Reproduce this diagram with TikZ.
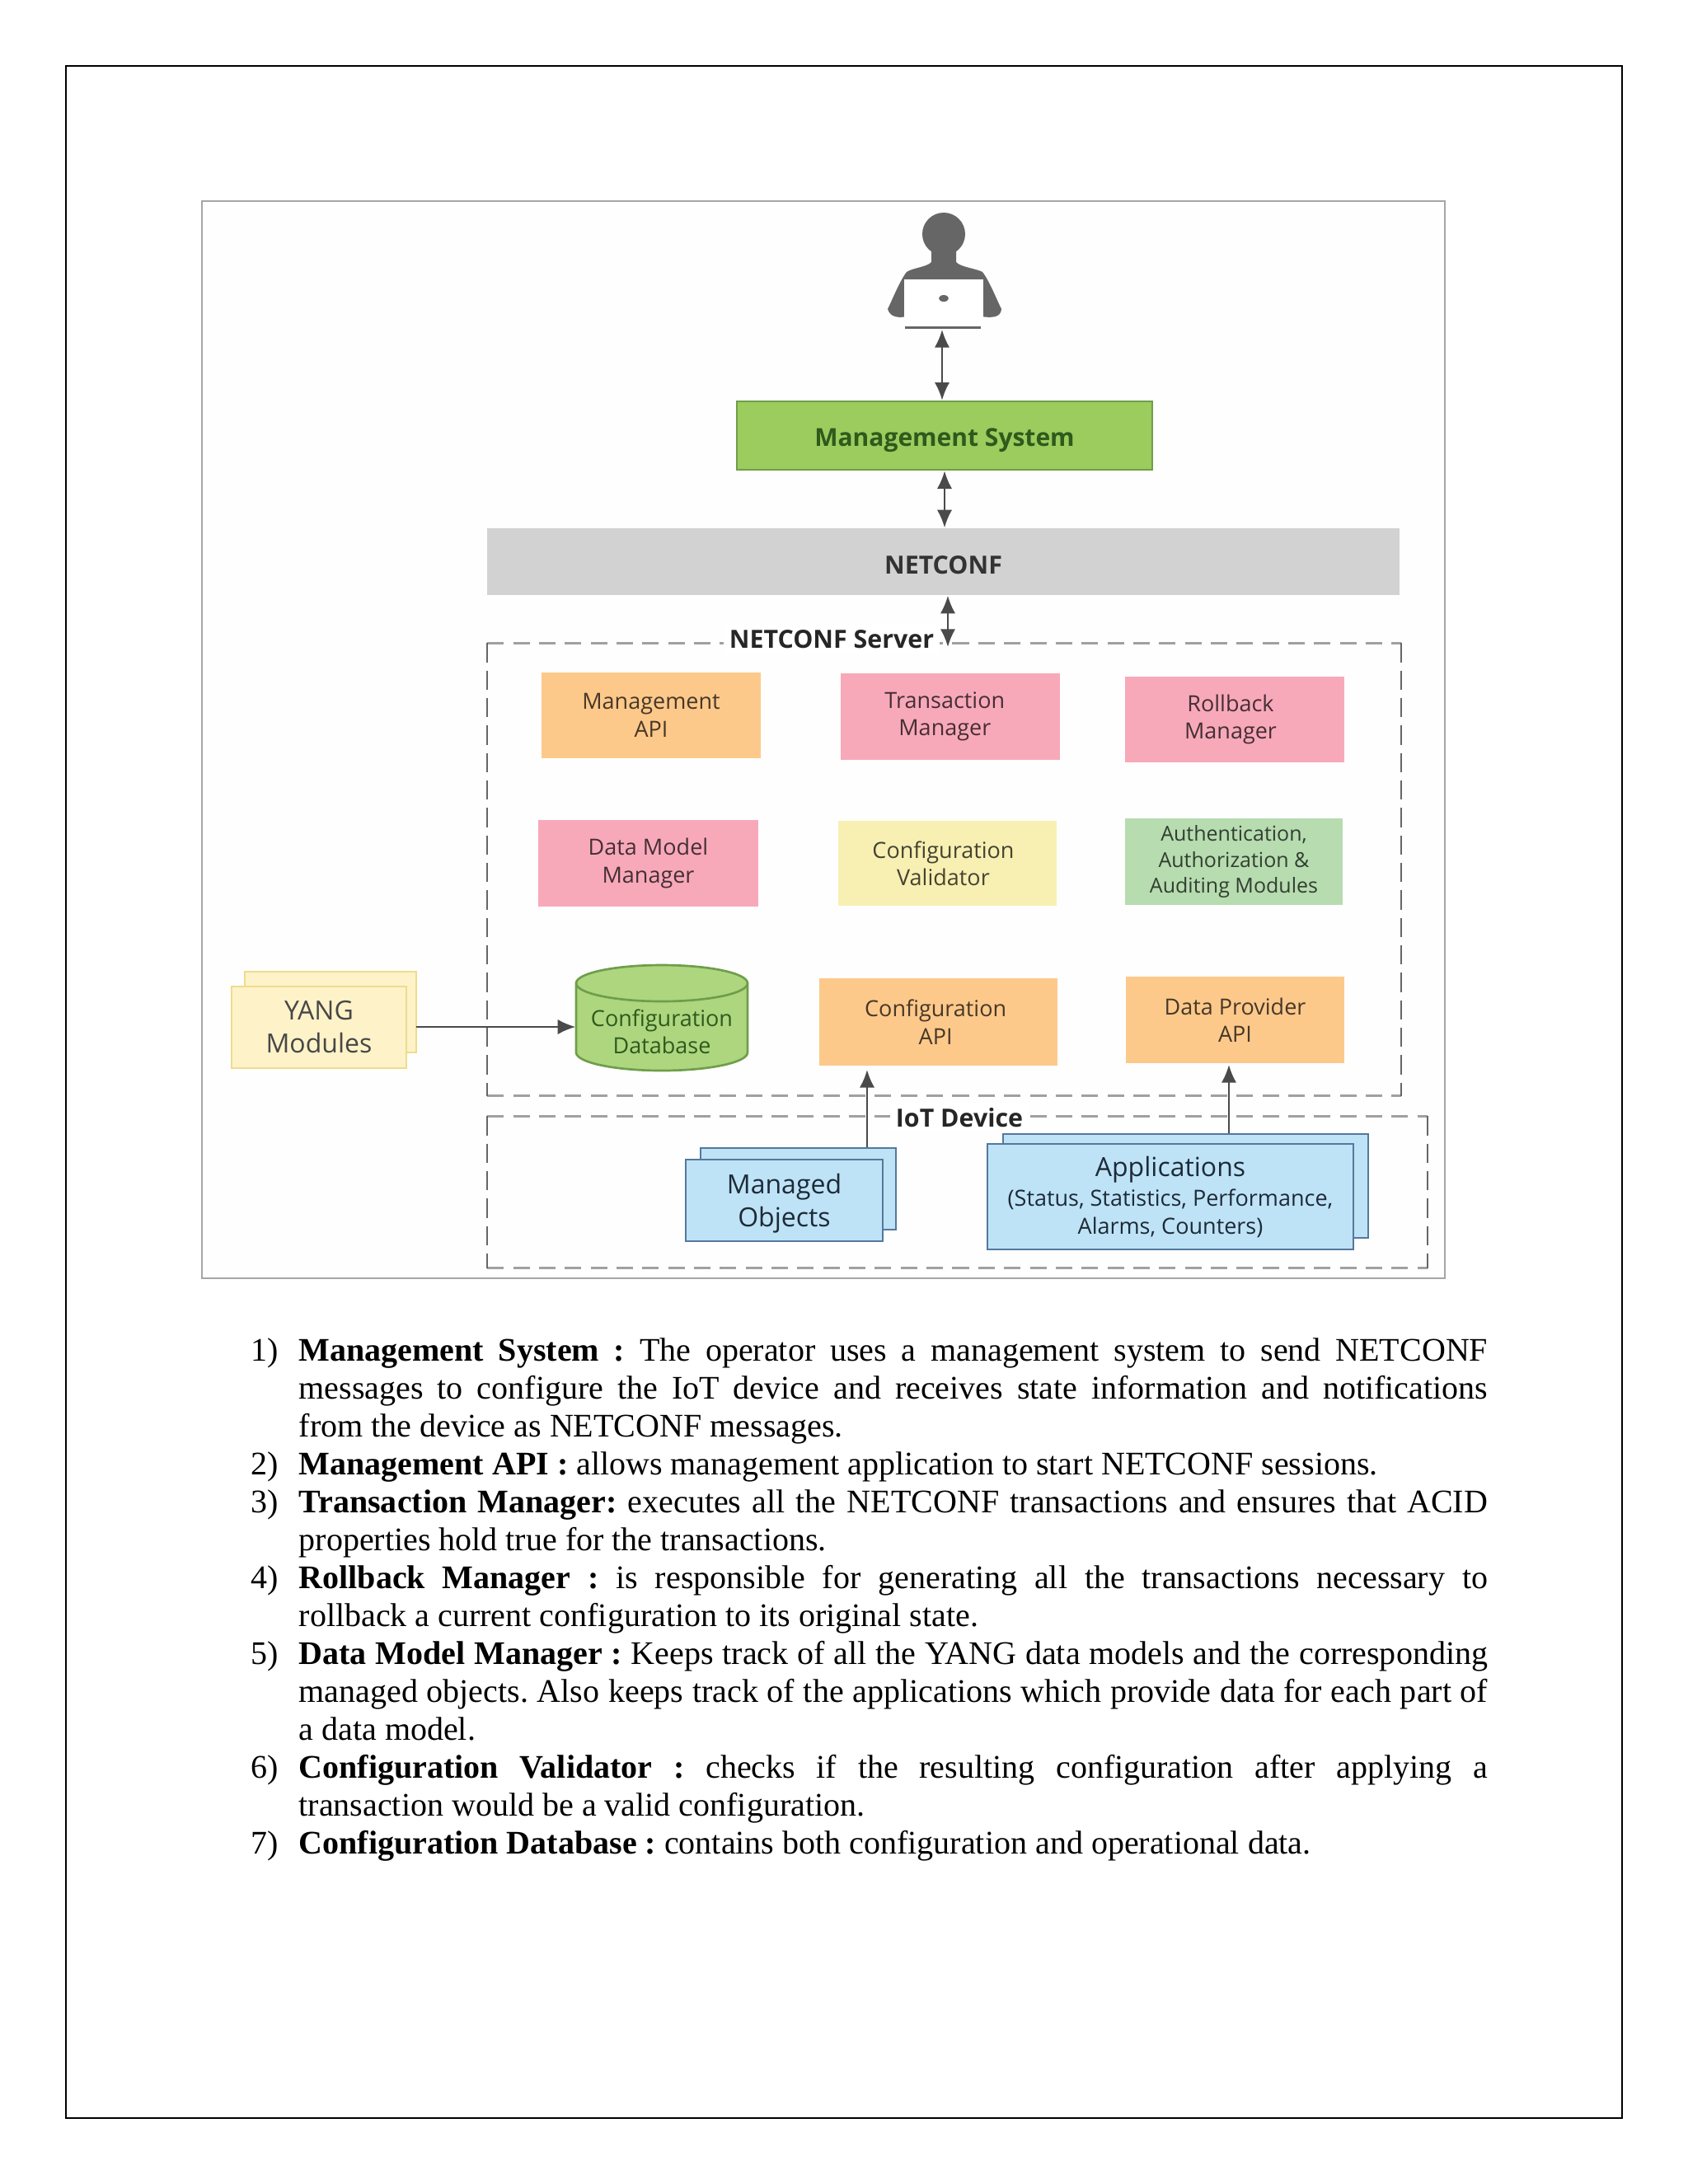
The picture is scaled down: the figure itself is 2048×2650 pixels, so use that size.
\documentclass[tikz,border=0pt]{standalone}
\usepackage{fontspec}
\setmainfont{Liberation Serif}
\newfontfamily\diag{Open Sans}
\usetikzlibrary{arrows.meta}
\definecolor{cGreen}{HTML}{9CCB5E}
\definecolor{cGreenB}{HTML}{6F9E4A}
\definecolor{cGreenT}{HTML}{2E5A1C}
\definecolor{cGrey}{HTML}{D2D2D2}
\definecolor{cOrange}{HTML}{FDC98B}
\definecolor{cPink}{HTML}{F8A9B9}
\definecolor{cYellow}{HTML}{F8F0B2}
\definecolor{cLGreen}{HTML}{B6DCB0}
\definecolor{cCream}{HTML}{FDF2C8}
\definecolor{cCreamB}{HTML}{EEDC8C}
\definecolor{cBlue}{HTML}{BEE3F7}
\definecolor{cBlueB}{HTML}{55789C}
\definecolor{cCyl}{HTML}{AED67F}
\definecolor{cPerson}{HTML}{666666}
\definecolor{cArrow}{HTML}{4A4A4A}
\definecolor{cDash}{HTML}{A0A0A0}
\tikzset{
  base box/.style={inner sep=0pt, align=center, font=\diag\fontsize{8.1}{10}\selectfont},
  green head/.style={base box, fill=cGreen, draw=cGreenB, line width=.8pt, text=cGreenT, font=\diag\bfseries\fontsize{9}{10}\selectfont},
  grey bar/.style={base box, fill=cGrey, text=black!80, font=\diag\bfseries\fontsize{9.1}{10}\selectfont},
  orange box/.style={base box, fill=cOrange, text=black!72!cOrange},
  pink box/.style={base box, fill=cPink, text=black!72!cPink},
  yellow box/.style={base box, fill=cYellow, text=black!72!cYellow},
  lgreen box/.style={base box, fill=cLGreen, text=black!72!cLGreen, font=\diag\fontsize{7.5}{9.4}\selectfont},
  cream box/.style={base box, fill=cCream, draw=cCreamB, line width=.8pt, text=black!72, font=\diag\fontsize{9.6}{12}\selectfont},
  blue box/.style={base box, fill=cBlue, draw=cBlueB, line width=.8pt, text=black!65!cBlueB, font=\diag\fontsize{9.6}{12}\selectfont},
  db label/.style={base box, text=cGreenT, font=\diag\fontsize{8.1}{9.8}\selectfont},
  ghost/.style={inner sep=0pt},
  title label/.style={fill=white, inner sep=2pt, text=black!85, font=\diag\bfseries\fontsize{9.1}{10}\selectfont},
  hdash/.style={cDash, line width=1pt, dash pattern=on 6pt off 3.4pt},
  vdash/.style={black!60, line width=.5pt, dash pattern=on 7pt off 3pt},
  flow/.style={cArrow, line width=.75pt, -{Latex[length=6.5pt,width=5.5pt]}},
  biflow/.style={cArrow, line width=.75pt, {Latex[length=6.5pt,width=5.5pt]}-{Latex[length=6.5pt,width=5.5pt]}},
}
\newcommand{\mybox}[7]{%
  \pgfmathsetmacro{\bw}{(#5-#3)*0.2988}%
  \pgfmathsetmacro{\bh}{(#6-#4)*0.2988}%
  \node[#2, minimum width=\bw bp, minimum height=\bh bp] (#1) at ({(#3+#5)/2},{(#4+#6)/2}) {#7};}
\newcommand{\itm}[2]{\par\hangindent=17.4pt\hangafter=1\noindent\hbox to 17.4pt{#1\hfil}#2}
\begin{document}
\begin{tikzpicture}[x=0.2988bp,y=-0.2988bp]
\useasboundingbox (0,0) rectangle (2048,2650);
\mybox{page}{ghost, draw=black, line width=.6pt}{80}{80}{1968}{2570}{}
\mybox{pict}{ghost, draw=black!35, line width=.5pt, fill=white!99.5!black}{245}{244}{1753}{1551}{}
% dashed frames
\mybox{server}{ghost}{592}{781}{1699}{1329}{}
\draw[hdash] (server.north west) -- (server.north east);
\draw[hdash] (server.south west) -- (server.south east);
\draw[vdash] (server.north west) -- (server.south west);
\draw[vdash] (server.north east) -- (server.south east);
\mybox{iot}{ghost}{592}{1355}{1731}{1538}{}
\draw[hdash] (iot.north west) -- (iot.north east);
\draw[hdash] (iot.south west) -- (iot.south east);
\draw[vdash] (iot.north west) -- (iot.south west);
\draw[vdash] (iot.north east) -- (iot.south east);
\node[title label] (serverlabel) at (1009,776) {NETCONF Server};
\node[title label] (iotlabel) at (1164,1356) {IoT Device};
% person
\node[ghost, minimum width=41bp, minimum height=42bp] (person) at (1143,329) {};
\fill[cPerson] (1145,284) circle [radius=26];
\fill[cPerson] (1130,300) -- (1160,300) -- (1160,318)
  .. controls (1165,324) and (1185,326) .. (1192,330)
  .. controls (1200,340) and (1210,365) .. (1215,375)
  .. controls (1214,385) and (1205,386) .. (1190,384)
  -- (1100,384)
  .. controls (1090,386) and (1080,385) .. (1077,375)
  .. controls (1082,365) and (1092,340) .. (1100,330)
  .. controls (1107,325) and (1125,324) .. (1130,318) -- cycle;
\fill[white] (1097,339) rectangle (1193,396);
\fill[cPerson] (1145,362) ellipse [x radius=6, y radius=4];
\fill[cPerson] (1098,396) rectangle (1190,399);
% top
\mybox{mgmt}{green head}{894}{487}{1398}{570}{\rule{0pt}{10pt}Management System}
\mybox{netconf}{grey bar}{591}{641}{1698}{722}{\rule{0pt}{9pt}NETCONF}
% server boxes
\mybox{mapi}{orange box}{657}{816}{923}{920}{Management\\API}
\mybox{tmgr}{pink box}{1020}{817}{1286}{922}{Transaction\hspace*{4pt}\\Manager\hspace*{4pt}}
\mybox{rmgr}{pink box}{1365}{821}{1631}{925}{Rollback\hspace*{3pt}\\Manager\hspace*{3pt}}
\mybox{dmm}{pink box}{653}{995}{920}{1100}{Data Model\\Manager}
\mybox{cval}{yellow box}{1017}{996}{1282}{1099}{Configuration\hspace*{3pt}\\Validator\hspace*{3pt}}
\mybox{aaa}{lgreen box}{1365}{993}{1629}{1098}{Authentication,\\Authorization \&\\Auditing Modules}
\mybox{capi}{orange box}{994}{1187}{1283}{1293}{Configuration\hspace*{2pt}\\API\hspace*{2pt}}
\mybox{dpapi}{orange box}{1366}{1185}{1631}{1290}{Data Provider\\API}
% yang
\mybox{yangback}{cream box}{297}{1179}{505}{1277}{}
\mybox{yang}{cream box}{281}{1197}{493}{1296}{YANG\\Modules}
% cylinder
\filldraw[fill=cCyl, draw=cGreenB, line width=.8pt]
  (699,1193) -- (699,1277) arc [start angle=180, end angle=0, x radius=104, y radius=22]
  -- (907,1193) arc [start angle=0, end angle=-180, x radius=104, y radius=22] -- cycle;
\draw[cGreenB, line width=.8pt] (699,1193) arc [start angle=180, end angle=0, x radius=104, y radius=22];
\mybox{db}{db label}{699}{1210}{907}{1294}{Configuration\\Database}
% managed
\mybox{moback}{blue box}{850}{1393}{1087}{1492}{}
\mybox{mo}{blue box}{832}{1407}{1071}{1506}{\rule{0pt}{9.5pt}Managed\\Objects}
\mybox{appsback}{blue box}{1217}{1376}{1660}{1502}{}
\mybox{apps}{blue box}{1198}{1388}{1642}{1516}{{\fontsize{9.6}{11}\selectfont Applications}\\[-1pt]{\fontsize{8.1}{10}\selectfont (Status, Statistics, Performance,}\\[-2pt]{\fontsize{8.1}{10}\selectfont Alarms, Counters)}}
% arrows
\coordinate (a3) at (1150,785);
\coordinate (cx) at (1052,1298);
\coordinate (dx) at (1491,1292);
\coordinate (yy) at (505,1246);
\draw[biflow] (person.south) -- (person.south |- mgmt.north);
\draw[biflow] (mgmt.south) -- (mgmt.south |- netconf.north);
\draw[biflow] (a3 |- netconf.south) -- (a3);
\draw[flow] (yy) -- (yy -| db.west);
\draw[flow] (cx |- moback.north) -- (cx);
\draw[flow] (dx |- appsback.north) -- (dx);
% text
\node[inner sep=0pt, anchor=north west, text width=450pt, align=justify, font=\fontsize{12}{13.8}\selectfont] (notes) at (304,1605) {%
\frenchspacing\hyphenpenalty=10000\exhyphenpenalty=10000
\itm{1)}{\textbf{Management System :} The operator uses a management system to send NETCONF messages to configure the IoT device and receives state information and notifications\linebreak from the device as NETCONF messages.}
\itm{2)}{\textbf{Management API :} allows management application to start NETCONF sessions.}
\itm{3)}{\textbf{Transaction Manager:} executes all the NETCONF transactions and ensures that ACID properties hold true for the transactions.}
\itm{4)}{\textbf{Rollback Manager :} is responsible for generating all the transactions necessary to\linebreak rollback a current configuration to its original state.}
\itm{5)}{\textbf{Data Model Manager :} Keeps track of all the YANG data models and the corresponding managed objects. Also keeps track of the applications which provide data for each part of\linebreak a data model.}
\itm{6)}{\textbf{Configuration Validator :} checks if the resulting configuration after applying a\linebreak transaction would be a valid configuration.}
\itm{7)}{\textbf{Configuration Database :} contains both configuration and operational data.}\par};
\end{tikzpicture}
\end{document}
